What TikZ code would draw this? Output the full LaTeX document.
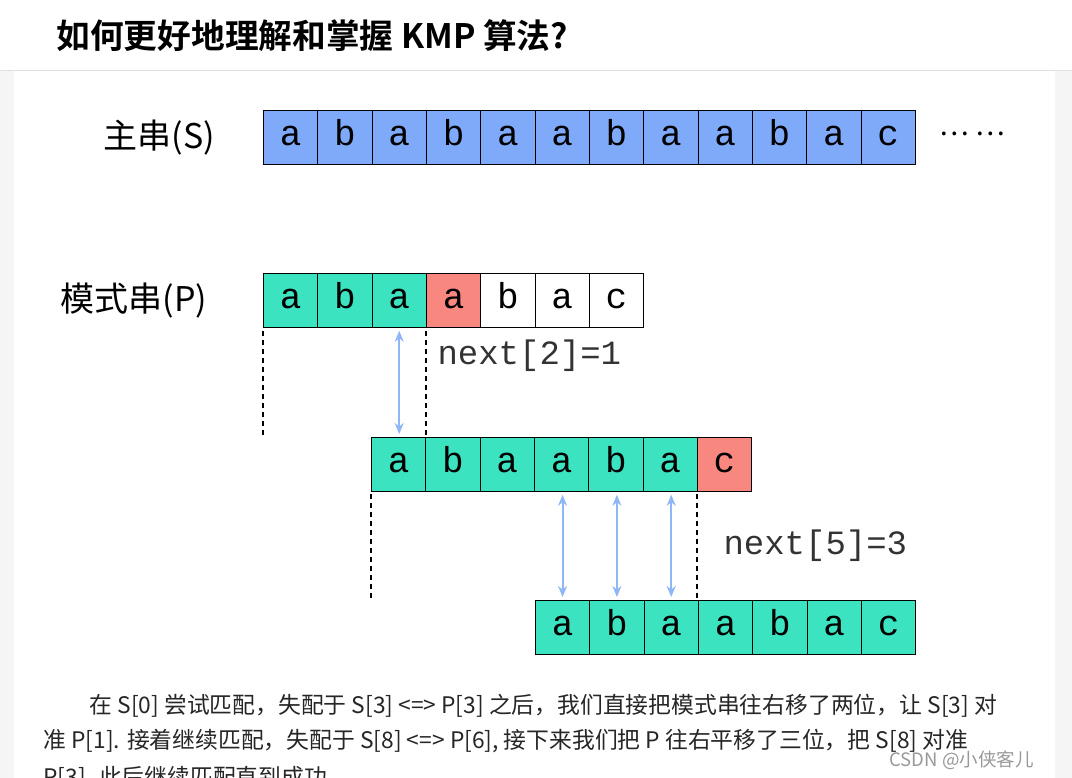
\documentclass[tikz,border=0pt]{standalone}
\usepackage{fontspec}
\usetikzlibrary{arrows.meta}
\setmainfont{Noto Sans CJK SC}
\newfontfamily\cjkb[BoldFont=* Bold]{Noto Sans CJK SC}
\newfontfamily\monof{Liberation Mono}
\definecolor{sblue}{HTML}{7FA9F9}
\definecolor{pgreen}{HTML}{3BE3C0}
\definecolor{pred}{HTML}{F8877F}
\definecolor{arr}{HTML}{8FB6F5}
\begin{document}
\begin{tikzpicture}[x=1pt,y=-1pt,
 cell/.style={draw=black,line width=0.8pt,minimum width=54.33pt,minimum height=54pt,inner sep=0,text height=17pt,text depth=0pt,font=\monof\fontsize{36}{36}\selectfont,anchor=north west},
 vd/.style={line width=1.8pt,dash pattern=on 5pt off 4pt},
 dar/.style={arr,line width=2pt,{Stealth[length=11pt,width=9pt]}-{Stealth[length=11pt,width=9pt]}},
 lab/.style={font=\fontsize{34}{34}\selectfont,anchor=west},
 nl/.style={font=\monof\fontsize{34}{34}\selectfont,anchor=west,text=black!80},
 body/.style={anchor=west,font=\fontsize{22.8}{22.8}\selectfont,text=black!85}]
\useasboundingbox (0,0) rectangle (1072,778);
\fill[black!4] (0,0) rectangle (1072,778);
\fill[white] (14,70) rectangle (1055,778);
\fill[white] (0,0) rectangle (1072,70);
\draw[black!12,line width=1pt] (0,70.5) -- (1072,70.5);
\node[anchor=west,font=\cjkb\bfseries\fontsize{33.7}{33.7}\selectfont] (title) at (53,36) {如何更好地理解和掌握 KMP 算法?};
% main string
\node[lab] (ls) at (100,138) {主串(S)};
\foreach \c [count=\i from 0] in {a,b,a,b,a,a,b,a,a,b,a,c}
  \node[cell,fill=sblue] (s\i) at ({263+54.33*\i},110) {\c};
\node[anchor=west,font=\fontsize{28}{28}\selectfont] (dots) at (936,134) {⋯\hspace{6pt}⋯};
% pattern
\node[lab] (lp) at (57,301) {模式串(P)};
\foreach \c/\f [count=\i from 0] in {a/pgreen,b/pgreen,a/pgreen,a/pred,b/white,a/white,c/white}
  \node[cell,fill=\f] (p\i) at ({263+54.33*\i},273) {\c};
\foreach \c/\f [count=\i from 0] in {a/pgreen,b/pgreen,a/pgreen,a/pgreen,b/pgreen,a/pgreen,c/pred}
  \node[cell,fill=\f] (q\i) at ({371+54.33*\i},437) {\c};
\foreach \c [count=\i from 0] in {a,b,a,a,b,a,c}
  \node[cell,fill=pgreen] (r\i) at ({535+54.33*\i},600) {\c};
% dashed guides
\coordinate (d1a) at (263,331); \coordinate (d1b) at (263,437);
\coordinate (d2a) at (426,331); \coordinate (d2b) at (426,437);
\coordinate (d3a) at (371,494); \coordinate (d3b) at (371,600);
\coordinate (d4a) at (697,494); \coordinate (d4b) at (697,600);
\draw[vd] (d1a) -- (d1b); \draw[vd] (d2a) -- (d2b);
\draw[vd] (d3a) -- (d3b); \draw[vd] (d4a) -- (d4b);
% arrows
\draw[dar] ([yshift=-3pt]p2.south) -- ([yshift=3pt]p2.south |- q0.north);
\draw[dar] ([yshift=-3pt]r0.north |- q3.south) -- ([yshift=3pt]r0.north);
\draw[dar] ([yshift=-3pt]r1.north |- q4.south) -- ([yshift=3pt]r1.north);
\draw[dar] ([yshift=-3pt]r2.north |- q5.south) -- ([yshift=3pt]r2.north);
\node[nl] (n1) at (434,356) {next[2]=1};
\node[nl] (n2) at (720,546) {next[5]=3};
% text
\node[body] (t1) at (86,706) {在 S[0] 尝试匹配，失配于 S[3] <=> P[3] 之后，我们直接把模式串往右移了两位，让 S[3] 对};
\node[body] (t2) at (40,741) {准 P[1]. 接着继续匹配，失配于 S[8] <=> P[6], 接下来我们把 P 往右平移了三位，把 S[8] 对准};
\node[body] (t3) at (40,778) {P[3]. 此后继续匹配直到成功.};
\node[anchor=west,font=\fontsize{18.5}{18.5}\selectfont,text=black!40] (wm) at (886,760) {CSDN @小侠客儿};
\end{tikzpicture}
\end{document}
